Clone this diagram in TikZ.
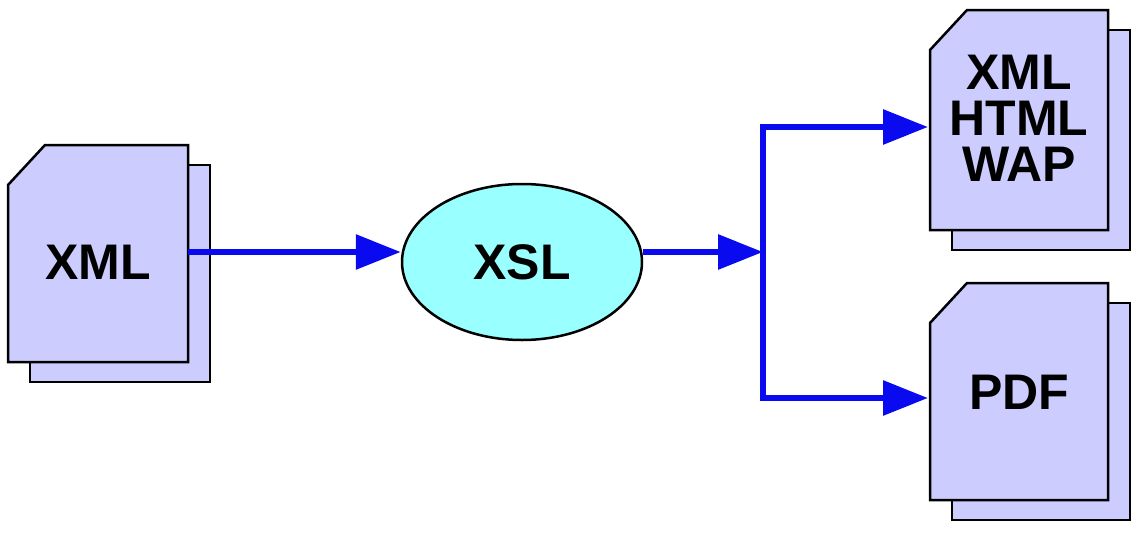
\documentclass[tikz,border=0pt]{standalone}
\usepackage{fontspec}
\setmainfont{Liberation Sans}
\usetikzlibrary{arrows.meta,shapes.geometric}
\definecolor{pagec}{RGB}{204,204,255}
\definecolor{ovalc}{RGB}{153,255,255}
\definecolor{arr}{RGB}{10,10,240}
\tikzset{
  pg/.style={draw=black,line width=2.5pt,fill=pagec},
  lbl/.style={font=\fontsize{50}{52}\selectfont\bfseries,align=center},
  flow/.style={draw=arr,line width=6pt,line join=miter,-{Triangle[length=45pt,width=34pt]}},
  wire/.style={draw=arr,line width=6pt}
}
\newcommand{\docpage}[4]{% x y w h (top-left, y downward)
  \filldraw[pg] (#1+22,#2+20) rectangle (#1+22+#3,#2+20+#4);
  \filldraw[pg] (#1,#2+40) -- (#1+37,#2) -- (#1+#3,#2) -- (#1+#3,#2+#4) -- (#1,#2+#4) -- cycle;
}
\begin{document}
\begin{tikzpicture}[x=1pt,y=-1pt]
\useasboundingbox (0,0) rectangle (1144,549);
\docpage{8}{145}{180}{217}
\docpage{930}{10}{178}{220}
\docpage{930}{283}{178}{217}
\node[lbl] (xml) at (98,262) {XML};
\node[lbl] (out1) at (1019,118) {XML\\[-6pt]HTML\\[-6pt]WAP};
\node[lbl] (pdf) at (1019,392) {PDF};
\node[draw=black,line width=2.5pt,fill=ovalc,ellipse,minimum width=240pt,minimum height=156pt,lbl] (xsl) at (522,262) {XSL};
\coordinate (j) at (763,252);
\coordinate (xmlr) at (188,252);
\coordinate (t1) at (763,127);
\coordinate (t2) at (763,398);
\coordinate (e1) at (928,127);
\coordinate (e2) at (928,398);
\draw[flow] (xmlr) -- (xsl.west |- xmlr);
\draw[flow] (xsl.east |- j) -- (j);
\draw[flow] (t2) -- (t1) -- (e1);
\draw[flow] (t1 |- j) -- (t2) -- (e2);
\end{tikzpicture}
\end{document}
